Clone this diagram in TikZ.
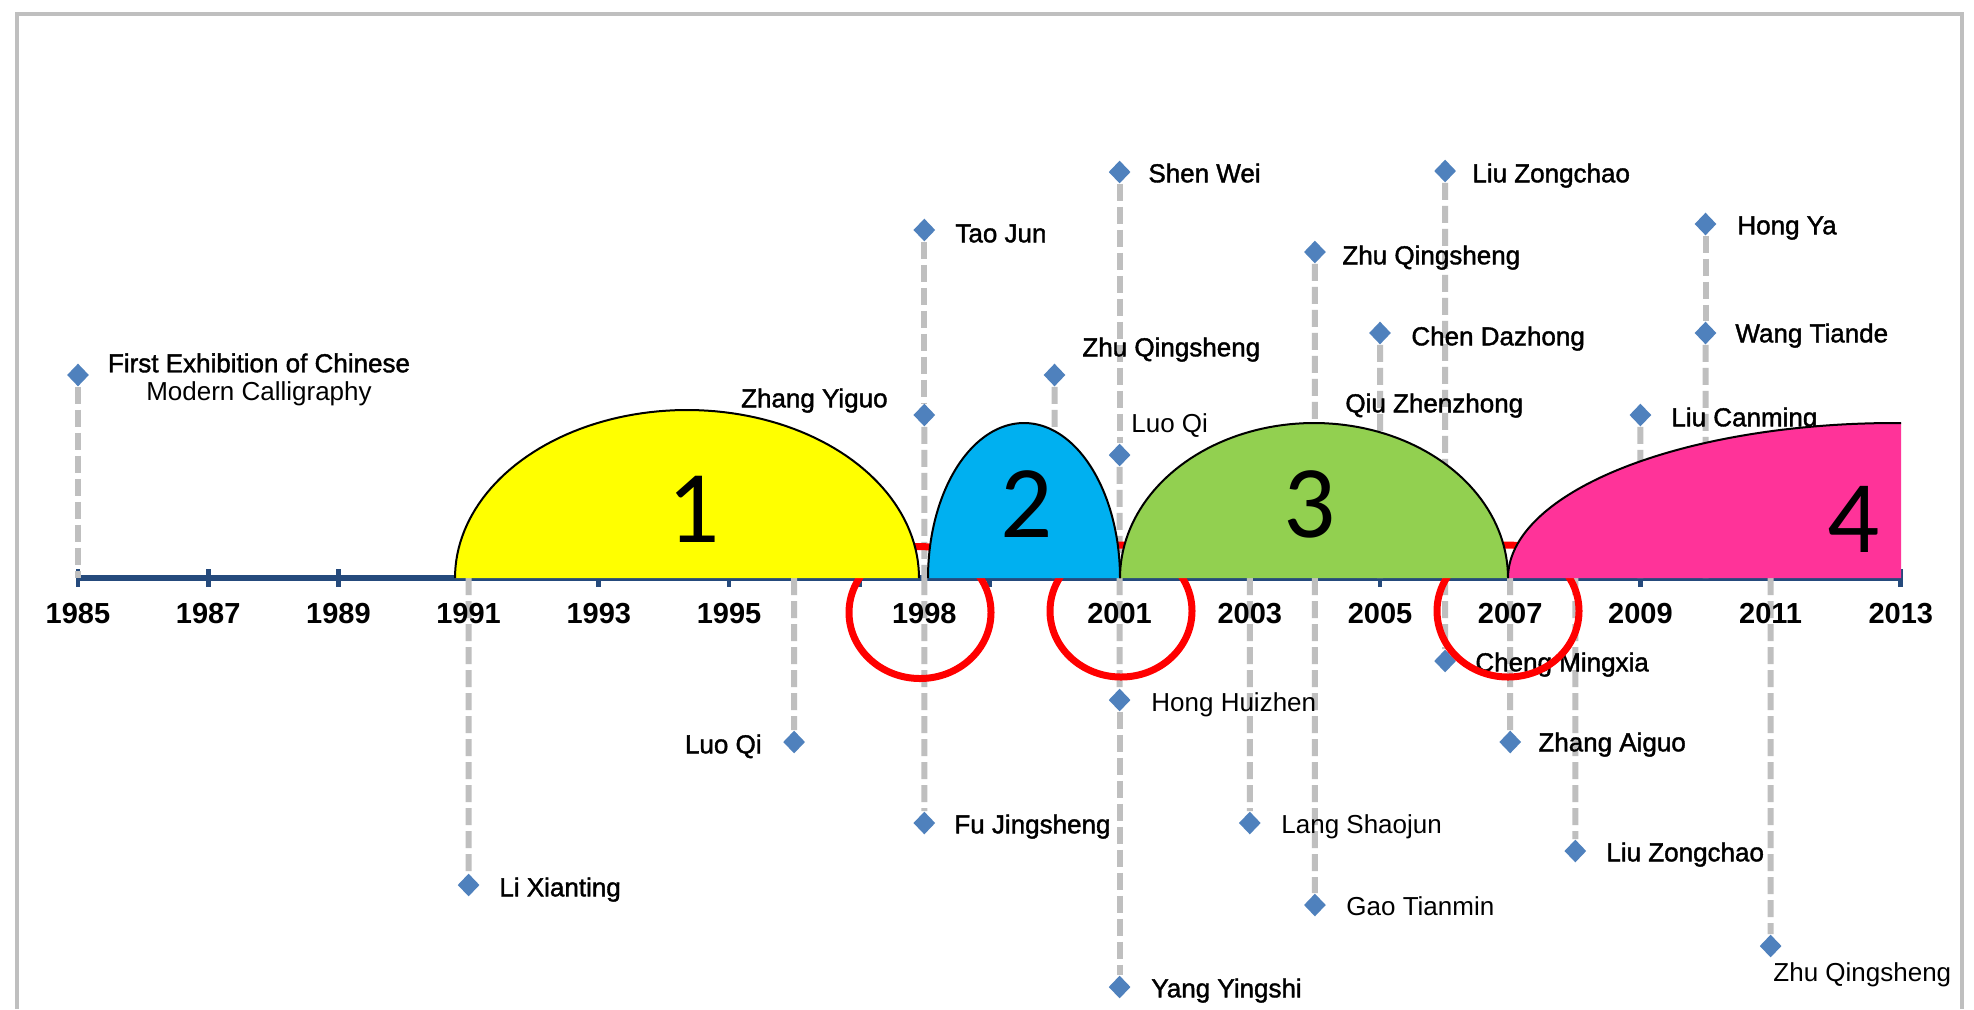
\documentclass[tikz,border=0pt]{standalone}
\usepackage{fontspec}
\setmainfont{Liberation Sans}
\newfontfamily\lblreg{Liberation Sans}
\newfontfamily\lblbold{Liberation Sans}[FakeBold=1.5]
\newfontfamily\bignum{Carlito}
\usetikzlibrary{shapes.geometric}
\pgfdeclarelayer{bgl}
\pgfdeclarelayer{lines}
\pgfsetlayers{bgl,lines,main}
\definecolor{diablue}{HTML}{4F81BD}
\definecolor{dropgray}{HTML}{BFBFBF}
\definecolor{axblue}{HTML}{254A7C}
\definecolor{framegray}{HTML}{BFBFBF}
\definecolor{humpyellow}{HTML}{FFFF00}
\definecolor{humpcyan}{HTML}{00B0F0}
\definecolor{humpgreen}{HTML}{92D050}
\definecolor{humppink}{HTML}{FF3399}
\definecolor{ringred}{HTML}{FF0000}
\begin{document}
\begin{tikzpicture}[x=0.5pt,y=-0.5pt,
  dia/.style={diamond, fill=diablue, draw=none, inner sep=0pt, minimum width=11pt, minimum height=11.5pt},
  lbl/.style={inner sep=0pt, text height=9.3pt, text depth=0pt, anchor=west, font=\fontsize{13}{15}\lblbold},
  lblr/.style={lbl, font=\fontsize{13}{15}\lblreg},
  lblL/.style={lbl, anchor=east},
  felbl/.style={inner sep=0pt, anchor=north, align=center, font=\fontsize{13}{14}\lblreg},
  yrlbl/.style={inner sep=0pt, text height=10.4pt, text depth=0pt, anchor=center, font=\fontsize{14.5}{16}\lblreg\bfseries},
  bignumst/.style={inner sep=0pt, text height=32.5pt, text depth=0pt, anchor=center, font=\fontsize{51.5}{55}\bignum},
  drop/.style={draw=dropgray, line width=3pt, dash pattern=on 8.5pt off 3pt},
  axisln/.style={draw=axblue, line width=2.6pt},
  tickln/.style={draw=axblue, line width=2.4pt},
  ring/.style={draw=ringred, line width=3.5pt},
  humpln/.style={draw=black, line width=1pt, line join=round}
]
\useasboundingbox (0,0) rectangle (1974,1009);
\begin{pgfonlayer}{bgl}
  \fill[white] (0,0) rectangle (1974,1009);
  \draw[framegray, line width=1.6pt] (17,1009) -- (17,14) -- (1962,14) -- (1962,1009);
  \foreach \yr in {1985,...,2013} \coordinate (ax\yr) at ({78+65.1*(\yr-1985)},578);
  \draw[axisln] (ax1985) -- (ax2013);
  \foreach \yr in {1985,1987,...,2013}
    \draw[tickln] ({78+65.1*(\yr-1985)},569) -- ({78+65.1*(\yr-1985)},587);
\end{pgfonlayer}

% year labels
\foreach \yr in {1985,1987,1989,1991,1993,1995,1998,2001,2003,2005,2007,2009,2011,2013}
  \node[yrlbl] (yr\yr) at ({78+65.1*(\yr-1985)},613) {\yr};

% points above the axis
\node[dia] (fe) at (78,375) {};
\node[felbl] (feL) at (259,353) {{\lblbold First Exhibition of Chinese}\\Modern Calligraphy};
\node[dia] (taojun) at (924.3,230) {};
\node[lbl] (taojunL) at (955,233) {Tao Jun};
\node[dia] (zhangyiguo) at (924.3,415) {};
\node[lblL] (zhangyiguoL) at (888,398) {Zhang Yiguo};
\node[dia] (zhuqsA) at (1054.5,375) {};
\node[lbl] (zhuqsAL) at (1082,347) {Zhu Qingsheng};
\node[dia] (shenwei) at (1119.6,172) {};
\node[lbl] (shenweiL) at (1148,173) {Shen Wei};
\node[dia] (luoqiA) at (1119.6,455) {};
\node[lblr] (luoqiAL) at (1131,423) {Luo Qi};
\node[dia] (zhuqsB) at (1314.9,252) {};
\node[lbl] (zhuqsBL) at (1342,255) {Zhu Qingsheng};
\node[dia] (chendz) at (1380,333) {};
\node[lbl] (chendzL) at (1411,336) {Chen Dazhong};
\node[lbl] (qiuzzL) at (1345,403) {Qiu Zhenzhong};
\node[dia] (liuzcA) at (1445.1,171) {};
\node[lbl] (liuzcAL) at (1472,173) {Liu Zongchao};
\node[dia] (liucm) at (1640.4,415) {};
\node[lbl] (liucmL) at (1671,417) {Liu Canming};
\node[dia] (hongya) at (1705.5,224) {};
\node[lbl] (hongyaL) at (1737,225) {Hong Ya};
\node[dia] (wangtd) at (1705.5,333) {};
\node[lbl] (wangtdL) at (1735,333) {Wang Tiande};

% points below the axis
\node[dia] (lixt) at (468.6,885) {};
\node[lbl] (lixtL) at (499,887) {Li Xianting};
\node[dia] (luoqiB) at (794.1,742) {};
\node[lblL] (luoqiBL) at (762,744) {Luo Qi};
\node[dia] (fujs) at (924.3,823) {};
\node[lbl] (fujsL) at (954,824) {Fu Jingsheng};
\node[dia] (honghz) at (1119.6,700) {};
\node[lblr] (honghzL) at (1151,702) {Hong Huizhen};
\node[dia] (yangys) at (1119.6,987) {};
\node[lbl] (yangysL) at (1151,988) {Yang Yingshi};
\node[dia] (langsj) at (1249.8,823) {};
\node[lblr] (langsjL) at (1281,824) {Lang Shaojun};
\node[dia] (gaotm) at (1314.9,905) {};
\node[lblr] (gaotmL) at (1346,906) {Gao Tianmin};
\node[dia] (chengmx) at (1445.1,661) {};
\node[lbl] (chengmxL) at (1475,662) {Cheng Mingxia};
\node[dia] (zhangag) at (1510.2,742) {};
\node[lbl] (zhangagL) at (1538,742) {Zhang Aiguo};
\node[dia] (liuzcB) at (1575.3,851) {};
\node[lbl] (liuzcBL) at (1606,852) {Liu Zongchao};
\node[dia] (zhuqsC) at (1770.6,946) {};
\node[lblr] (zhuqsCL) at (1773,972) {Zhu Qingsheng};

% dashed drop lines
\begin{pgfonlayer}{lines}
  \draw[drop] (fe) -- (ax1985);
  \draw[drop] (taojun) -- (zhangyiguo);
  \draw[drop] (zhangyiguo) -- (ax1998);
  \draw[drop] (zhuqsA) -- (ax2000);
  \draw[drop] (shenwei) -- (luoqiA);
  \draw[drop] (luoqiA) -- (ax2001);
  \draw[drop] (zhuqsB) -- (ax2004);
  \draw[drop] (chendz) -- (ax2005);
  \draw[drop] (liuzcA) -- (ax2006);
  \draw[drop] (liucm) -- (ax2009);
  \draw[drop] (hongya) -- (wangtd);
  \draw[drop] (wangtd) -- (ax2010);
  \draw[drop] (ax1991) -- (lixt);
  \draw[drop] (ax1996) -- (luoqiB);
  \draw[drop] (ax1998) -- (fujs);
  \draw[drop] (ax2001) -- (honghz);
  \draw[drop] (honghz) -- (yangys);
  \draw[drop] (ax2003) -- (langsj);
  \draw[drop] (ax2004) -- (gaotm);
  \draw[drop] (ax2006) -- (chengmx);
  \draw[drop] (ax2007) -- (zhangag);
  \draw[drop] (ax2008) -- (liuzcB);
  \draw[drop] (ax2011) -- (zhuqsC);
\end{pgfonlayer}

% red rings
\draw[ring] (920,612.5) ellipse [x radius=71, y radius=66];
\draw[ring] (1121,611) ellipse [x radius=71, y radius=66];
\draw[ring] (1508,611) ellipse [x radius=71, y radius=66];

% humps
\fill[humpyellow] plot[domain=180:360, samples=90] ({687+232*cos(\x)},{578+168*sin(\x)}) -- cycle;
\draw[humpln] plot[domain=180:360, samples=90] ({687+232*cos(\x)},{578+168*sin(\x)});
\fill[humpcyan] plot[domain=180:360, samples=90] ({1024+96*cos(\x)},{578+155*sin(\x)}) -- cycle;
\draw[humpln] plot[domain=180:360, samples=90] ({1024+96*cos(\x)},{578+155*sin(\x)});
\fill[humpgreen] plot[domain=180:360, samples=90] ({1314+194*cos(\x)},{578+155*sin(\x)}) -- cycle;
\draw[humpln] plot[domain=180:360, samples=90] ({1314+194*cos(\x)},{578+155*sin(\x)});
\fill[humppink] plot[domain=180:270, samples=90] ({1895+387*cos(\x)},{578+155*sin(\x)}) -- (1901,423) -- (1901,578) -- cycle;
\draw[humpln] plot[domain=180:270, samples=90] ({1895+387*cos(\x)},{578+155*sin(\x)}) -- (1901,423);

% phase numbers
\node[bignumst] (numA) at (694,510) {1};
\node[bignumst] (numB) at (1027,505) {2};
\node[bignumst] (numC) at (1310,505) {3};
\node[bignumst] (numD) at (1854,520) {4};
\end{tikzpicture}
\end{document}
